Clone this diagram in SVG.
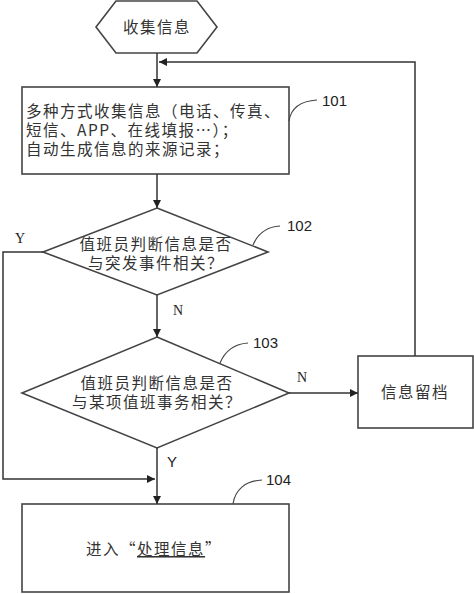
<svg xmlns="http://www.w3.org/2000/svg" width="474" height="594" viewBox="0 0 474 594">
<defs>
<marker id="arr" viewBox="0 0 10 10" refX="10" refY="5" markerWidth="9" markerHeight="8" markerUnits="userSpaceOnUse" orient="auto">
<path d="M0,0 L10,5 L0,10 Z" fill="#222"/>
</marker>
<style>
.shape{fill:#fff;stroke:#444;stroke-width:1.6}
.cn{font-family:"Noto Sans CJK SC","Noto Sans",sans-serif;fill:#333;font-size:15.5px;letter-spacing:1.5px}
.num{font-family:"Liberation Sans","DejaVu Sans",sans-serif;fill:#222;font-size:15px}
.yn{font-family:"Liberation Serif","DejaVu Serif",serif;fill:#222;font-size:14px}
.conn{fill:none;stroke:#333;stroke-width:1.5}
.call{fill:none;stroke:#444;stroke-width:1.2}
</style>
</defs>
<rect width="474" height="594" fill="#fff"/>
<g id="start">
<polygon class="shape" points="96,27 116,1 197,1 217,27 197,53 116,53"/>
<text class="cn" x="157" y="33" text-anchor="middle">收集信息</text>
</g>
<g id="n101">
<rect class="shape" x="22" y="87" width="267" height="87"/>
<text class="cn" x="26" y="117">多种方式收集信息（电话、传真、<tspan x="26" dy="19">短信、APP、在线填报…）；</tspan><tspan x="26" dy="19">自动生成信息的来源记录；</tspan></text>
<path class="call" d="M289,121 C291,108 300,101 317,100"/>
<text class="num" x="322" y="106">101</text>
</g>
<g id="n102">
<polygon class="shape" points="157,208 268,252 157,295 43,252"/>
<text class="cn" x="156" y="250" text-anchor="middle">值班员判断信息是否<tspan x="156" dy="19">与突发事件相关？</tspan></text>
<path class="call" d="M253,245 C258,233 266,227 280,226"/>
<text class="num" x="287" y="231">102</text>
</g>
<g id="n103">
<polygon class="shape" points="157,337 289,393 157,448 22,393"/>
<text class="cn" x="157" y="389" text-anchor="middle">值班员判断信息是否<tspan x="157" dy="19">与某项值班事务相关？</tspan></text>
<path class="call" d="M220,363 C225,351 234,344 248,343"/>
<text class="num" x="253" y="348">103</text>
</g>
<g id="archive">
<rect class="shape" x="358" y="356" width="115" height="72"/>
<text class="cn" x="415" y="398" text-anchor="middle">信息留档</text>
</g>
<g id="n104">
<rect class="shape" x="22" y="504" width="267" height="88"/>
<text class="cn" x="86" y="555">进入“<tspan text-decoration="underline">处理信息</tspan>”</text>
<path class="call" d="M233,504 C235,490 245,481 262,480"/>
<text class="num" x="266" y="485">104</text>
</g>
<g id="connectors">
<path class="conn" d="M157,53 V87" marker-end="url(#arr)"/>
<path class="conn" d="M415,356 V62 H159" marker-end="url(#arr)"/>
<path class="conn" d="M157,174 V208" marker-end="url(#arr)"/>
<path class="conn" d="M157,295 V337" marker-end="url(#arr)"/>
<path class="conn" d="M43,252 H3 V479 H155" marker-end="url(#arr)"/>
<path class="conn" d="M157,448 V504" marker-end="url(#arr)"/>
<path class="conn" d="M289,393 H358" marker-end="url(#arr)"/>
<text class="yn" x="15" y="243">Y</text>
<text class="yn" x="173" y="315">N</text>
<text class="yn" x="297" y="382">N</text>
<text class="num" x="167" y="467" font-size="14">Y</text>
</g>
</svg>
